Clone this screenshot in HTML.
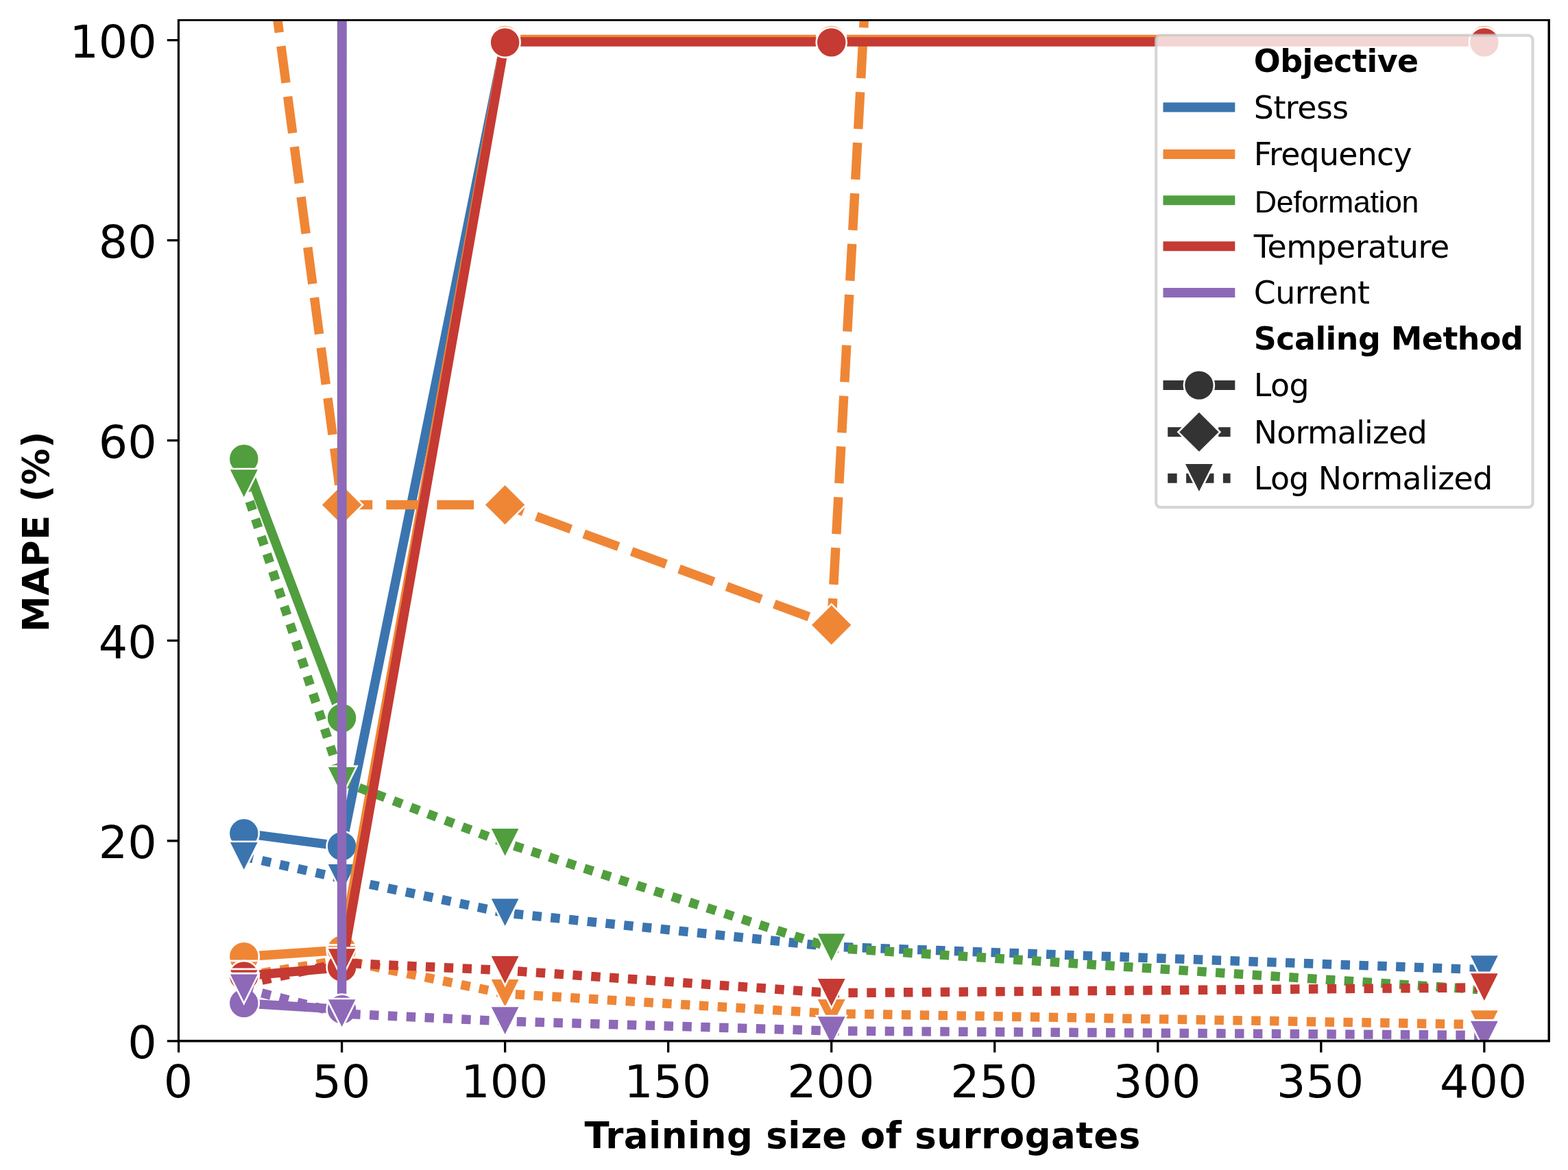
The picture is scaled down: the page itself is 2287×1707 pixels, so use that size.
<!DOCTYPE html>
<html lang="en">
<head>
<meta charset="utf-8">
<title>MAPE vs Training size of surrogates</title>
<style>
html,body{margin:0;padding:0;background:#fff;}
body{width:2287px;height:1707px;overflow:hidden;}
svg{display:block;}
</style>
</head>
<body>
<svg width="2287" height="1707" viewBox="0 0 2287 1707" role="img" aria-label="MAPE versus training size of surrogates">
<defs><clipPath id="ax"><rect x="260.4" y="29.4" width="1998.8" height="1489.4"/></clipPath></defs>
<rect width="2287" height="1707" fill="#fff"/>
<g clip-path="url(#ax)">
<path d="M355.77 1215.81 L498.59 1234.65 L736.63 60.36 L1212.71 60.36 L2164.87 60.36" fill="none" stroke="#3b75af" stroke-width="13.45" stroke-linejoin="round" stroke-linecap="square"/>
<circle cx="355.77" cy="1215.81" r="22" fill="#3b75af" stroke="#fff" stroke-width="2.6"/>
<circle cx="498.59" cy="1234.65" r="22" fill="#3b75af" stroke="#fff" stroke-width="2.6"/>
<circle cx="736.63" cy="61.26" r="22" fill="#3b75af" stroke="#fff" stroke-width="2.6"/>
<circle cx="1212.71" cy="61.26" r="22" fill="#3b75af" stroke="#fff" stroke-width="2.6"/>
<circle cx="2164.87" cy="61.26" r="22" fill="#3b75af" stroke="#fff" stroke-width="2.6"/>
<path d="M355.77 1249.69 L498.59 1281.66 L736.63 1331.89 L1212.71 1381.18 L2164.87 1414.83" fill="none" stroke="#3b75af" stroke-width="13.45" stroke-linejoin="round" stroke-linecap="butt" stroke-dasharray="13.43 13.43"/>
<polygon points="333.77,1227.69 377.77,1227.69 355.77,1271.69" fill="#3b75af" stroke="#fff" stroke-width="2.6" stroke-linejoin="miter"/>
<polygon points="476.59,1259.66 520.59,1259.66 498.59,1303.66" fill="#3b75af" stroke="#fff" stroke-width="2.6" stroke-linejoin="miter"/>
<polygon points="714.63,1309.89 758.63,1309.89 736.63,1353.89" fill="#3b75af" stroke="#fff" stroke-width="2.6" stroke-linejoin="miter"/>
<polygon points="1190.71,1359.18 1234.71,1359.18 1212.71,1403.18" fill="#3b75af" stroke="#fff" stroke-width="2.6" stroke-linejoin="miter"/>
<polygon points="2142.87,1392.83 2186.87,1392.83 2164.87,1436.83" fill="#3b75af" stroke="#fff" stroke-width="2.6" stroke-linejoin="miter"/>
<path d="M355.77 1395.71 L498.59 1385.92 L736.63 57.58 L1212.71 57.58 L2164.87 57.58" fill="none" stroke="#ef8636" stroke-width="13.45" stroke-linejoin="round" stroke-linecap="square"/>
<circle cx="355.77" cy="1395.71" r="22" fill="#ef8636" stroke="#fff" stroke-width="2.6"/>
<circle cx="498.59" cy="1385.92" r="22" fill="#ef8636" stroke="#fff" stroke-width="2.6"/>
<circle cx="736.63" cy="58.48" r="22" fill="#ef8636" stroke="#fff" stroke-width="2.6"/>
<circle cx="1212.71" cy="58.48" r="22" fill="#ef8636" stroke="#fff" stroke-width="2.6"/>
<circle cx="2164.87" cy="58.48" r="22" fill="#ef8636" stroke="#fff" stroke-width="2.6"/>
<path d="M355.77 -341.49 L498.59 736.57 L736.63 736.57 L1212.71 911.94 L1298.08 -671.49" fill="none" stroke="#ef8636" stroke-width="13.45" stroke-linejoin="round" stroke-linecap="butt" stroke-dasharray="53.8 20.175" stroke-dashoffset="31.34"/>
<polygon points="498.59,706.08 529.08,736.57 498.59,767.06 468.1,736.57" fill="#ef8636" stroke="#fff" stroke-width="2.6" stroke-linejoin="miter"/>
<polygon points="736.63,706.08 767.12,736.57 736.63,767.06 706.14,736.57" fill="#ef8636" stroke="#fff" stroke-width="2.6" stroke-linejoin="miter"/>
<polygon points="1212.71,881.45 1243.2,911.94 1212.71,942.43 1182.22,911.94" fill="#ef8636" stroke="#fff" stroke-width="2.6" stroke-linejoin="miter"/>
<path d="M355.77 1423.89 L498.59 1400.67 L736.63 1449.81 L1212.71 1478.79 L2164.87 1494.85" fill="none" stroke="#ef8636" stroke-width="13.45" stroke-linejoin="round" stroke-linecap="butt" stroke-dasharray="13.43 13.43"/>
<polygon points="333.77,1401.89 377.77,1401.89 355.77,1445.89" fill="#ef8636" stroke="#fff" stroke-width="2.6" stroke-linejoin="miter"/>
<polygon points="476.59,1378.67 520.59,1378.67 498.59,1422.67" fill="#ef8636" stroke="#fff" stroke-width="2.6" stroke-linejoin="miter"/>
<polygon points="714.63,1427.81 758.63,1427.81 736.63,1471.81" fill="#ef8636" stroke="#fff" stroke-width="2.6" stroke-linejoin="miter"/>
<polygon points="1190.71,1456.79 1234.71,1456.79 1212.71,1500.79" fill="#ef8636" stroke="#fff" stroke-width="2.6" stroke-linejoin="miter"/>
<polygon points="2142.87,1472.85 2186.87,1472.85 2164.87,1516.85" fill="#ef8636" stroke="#fff" stroke-width="2.6" stroke-linejoin="miter"/>
<path d="M355.77 669.4 L498.59 1047.59 L498.59 -671.49" fill="none" stroke="#519e3e" stroke-width="13.45" stroke-linejoin="round" stroke-linecap="square"/>
<circle cx="355.77" cy="669.4" r="22" fill="#519e3e" stroke="#fff" stroke-width="2.6"/>
<circle cx="498.59" cy="1047.59" r="22" fill="#519e3e" stroke="#fff" stroke-width="2.6"/>
<path d="M355.77 706.05 L498.59 1139.88 L736.63 1229.68 L1212.71 1382.86 L2164.87 1444.04" fill="none" stroke="#519e3e" stroke-width="13.45" stroke-linejoin="round" stroke-linecap="butt" stroke-dasharray="13.43 13.43"/>
<polygon points="333.77,684.05 377.77,684.05 355.77,728.05" fill="#519e3e" stroke="#fff" stroke-width="2.6" stroke-linejoin="miter"/>
<polygon points="476.59,1117.88 520.59,1117.88 498.59,1161.88" fill="#519e3e" stroke="#fff" stroke-width="2.6" stroke-linejoin="miter"/>
<polygon points="714.63,1207.68 758.63,1207.68 736.63,1251.68" fill="#519e3e" stroke="#fff" stroke-width="2.6" stroke-linejoin="miter"/>
<polygon points="1190.71,1360.86 1234.71,1360.86 1212.71,1404.86" fill="#519e3e" stroke="#fff" stroke-width="2.6" stroke-linejoin="miter"/>
<polygon points="2142.87,1422.04 2186.87,1422.04 2164.87,1466.04" fill="#519e3e" stroke="#fff" stroke-width="2.6" stroke-linejoin="miter"/>
<path d="M355.77 1423.89 L498.59 1411.18 L736.63 60.94 L1212.71 60.94 L2164.87 60.94" fill="none" stroke="#c53a32" stroke-width="13.45" stroke-linejoin="round" stroke-linecap="square"/>
<circle cx="355.77" cy="1423.89" r="22" fill="#c53a32" stroke="#fff" stroke-width="2.6"/>
<circle cx="498.59" cy="1411.18" r="22" fill="#c53a32" stroke="#fff" stroke-width="2.6"/>
<circle cx="736.63" cy="61.84" r="22" fill="#c53a32" stroke="#fff" stroke-width="2.6"/>
<circle cx="1212.71" cy="61.84" r="22" fill="#c53a32" stroke="#fff" stroke-width="2.6"/>
<circle cx="2164.87" cy="61.84" r="22" fill="#c53a32" stroke="#fff" stroke-width="2.6"/>
<path d="M355.77 1435.86 L498.59 1404.9 L736.63 1415.71 L1212.71 1448.71 L2164.87 1440.83" fill="none" stroke="#c53a32" stroke-width="13.45" stroke-linejoin="round" stroke-linecap="butt" stroke-dasharray="13.43 13.43"/>
<polygon points="333.77,1413.86 377.77,1413.86 355.77,1457.86" fill="#c53a32" stroke="#fff" stroke-width="2.6" stroke-linejoin="miter"/>
<polygon points="476.59,1382.9 520.59,1382.9 498.59,1426.9" fill="#c53a32" stroke="#fff" stroke-width="2.6" stroke-linejoin="miter"/>
<polygon points="714.63,1393.71 758.63,1393.71 736.63,1437.71" fill="#c53a32" stroke="#fff" stroke-width="2.6" stroke-linejoin="miter"/>
<polygon points="1190.71,1426.71 1234.71,1426.71 1212.71,1470.71" fill="#c53a32" stroke="#fff" stroke-width="2.6" stroke-linejoin="miter"/>
<polygon points="2142.87,1418.83 2186.87,1418.83 2164.87,1462.83" fill="#c53a32" stroke="#fff" stroke-width="2.6" stroke-linejoin="miter"/>
<path d="M355.77 1463.6 L498.59 1472.66 L499.09 -671.49" fill="none" stroke="#8d69b8" stroke-width="13.45" stroke-linejoin="round" stroke-linecap="square"/>
<circle cx="355.77" cy="1463.6" r="22" fill="#8d69b8" stroke="#fff" stroke-width="2.6"/>
<circle cx="498.59" cy="1472.66" r="22" fill="#8d69b8" stroke="#fff" stroke-width="2.6"/>
<path d="M355.77 1442.14 L498.59 1478.94 L736.63 1489.95 L1212.71 1503.99 L2164.87 1510.39" fill="none" stroke="#8d69b8" stroke-width="13.45" stroke-linejoin="round" stroke-linecap="butt" stroke-dasharray="13.43 13.43"/>
<polygon points="333.77,1420.14 377.77,1420.14 355.77,1464.14" fill="#8d69b8" stroke="#fff" stroke-width="2.6" stroke-linejoin="miter"/>
<polygon points="476.59,1456.94 520.59,1456.94 498.59,1500.94" fill="#8d69b8" stroke="#fff" stroke-width="2.6" stroke-linejoin="miter"/>
<polygon points="714.63,1467.95 758.63,1467.95 736.63,1511.95" fill="#8d69b8" stroke="#fff" stroke-width="2.6" stroke-linejoin="miter"/>
<polygon points="1190.71,1481.99 1234.71,1481.99 1212.71,1525.99" fill="#8d69b8" stroke="#fff" stroke-width="2.6" stroke-linejoin="miter"/>
<polygon points="2142.87,1488.39 2186.87,1488.39 2164.87,1532.39" fill="#8d69b8" stroke="#fff" stroke-width="2.6" stroke-linejoin="miter"/>
</g>
<path d="M260.55 1518.8 v16.6 M498.59 1518.8 v16.6 M736.63 1518.8 v16.6 M974.67 1518.8 v16.6 M1212.71 1518.8 v16.6 M1450.75 1518.8 v16.6 M1688.79 1518.8 v16.6 M1926.83 1518.8 v16.6 M2164.87 1518.8 v16.6 M260.4 1518.8 h-16.6 M260.4 1226.76 h-16.6 M260.4 934.72 h-16.6 M260.4 642.68 h-16.6 M260.4 350.64 h-16.6 M260.4 58.6 h-16.6" stroke="#000" stroke-width="3.3" fill="none"/>
<path d="M258.8 27.95 H2260.9 V1520.55 H258.8 Z M262 30.85 V1517.05 H2257.5 V30.85 Z" fill="#000" fill-rule="evenodd"/>
<g font-family="'DejaVu Sans', 'Liberation Sans', sans-serif" font-size="66.67" fill="#000">
<text x="260" y="1601.2" text-anchor="middle">0</text>
<text x="497.95" y="1601.2" text-anchor="middle">50</text>
<text x="735.9" y="1601.2" text-anchor="middle">100</text>
<text x="973.85" y="1601.2" text-anchor="middle">150</text>
<text x="1211.8" y="1601.2" text-anchor="middle">200</text>
<text x="1449.75" y="1601.2" text-anchor="middle">250</text>
<text x="1687.7" y="1601.2" text-anchor="middle">300</text>
<text x="1925.65" y="1601.2" text-anchor="middle">350</text>
<text x="2163.6" y="1601.2" text-anchor="middle">400</text>
<text x="228.7" y="1544.3" text-anchor="end">0</text>
<text x="228.7" y="1252.26" text-anchor="end">20</text>
<text x="228.7" y="960.22" text-anchor="end">40</text>
<text x="228.7" y="668.18" text-anchor="end">60</text>
<text x="228.7" y="376.14" text-anchor="end">80</text>
<text x="228.7" y="84.1" text-anchor="end">100</text>
</g>
<g font-family="'DejaVu Sans', 'Liberation Sans', sans-serif" font-weight="bold" font-size="53" letter-spacing="0.5" fill="#000">
<text x="1258.05" y="1674.5" text-anchor="middle">Training size of surrogates</text>
<text transform="translate(70.8 775.5) rotate(-90)" text-anchor="middle">MAPE (%)</text>
</g>
<rect x="1686.2" y="51.6" width="549.3" height="688.6" rx="6.5" ry="6.5" fill="#fff" fill-opacity="0.79" stroke="#ccc" stroke-opacity="0.8" stroke-width="4.2"/>
<text x="1828.8" y="105" font-family="'DejaVu Sans', 'Liberation Sans', sans-serif" font-size="45.83" letter-spacing="-0.5" font-weight="bold" fill="#000">Objective</text>
<path d="M1696.48 156.5 H1801.32" stroke="#3b75af" stroke-width="14" stroke-linecap="butt" fill="none"/>
<text x="1828.8" y="173.3" font-family="'DejaVu Sans', 'Liberation Sans', sans-serif" font-size="45.83" letter-spacing="-0.5" fill="#000">Stress</text>
<path d="M1696.48 225 H1801.32" stroke="#ef8636" stroke-width="14" stroke-linecap="butt" fill="none"/>
<text x="1828.8" y="240.5" font-family="'DejaVu Sans', 'Liberation Sans', sans-serif" font-size="45.83" letter-spacing="-0.75" fill="#000">Frequency</text>
<path d="M1696.48 292.2 H1801.32" stroke="#519e3e" stroke-width="14" stroke-linecap="butt" fill="none"/>
<text x="1829.8" y="309.7" font-family="'Liberation Sans', 'DejaVu Sans', sans-serif" font-size="44.8" letter-spacing="-0.45" fill="#000">Deformation</text>
<path d="M1696.48 359.3 H1801.32" stroke="#c53a32" stroke-width="14" stroke-linecap="butt" fill="none"/>
<text x="1828.8" y="375.8" font-family="'DejaVu Sans', 'Liberation Sans', sans-serif" font-size="45.83" letter-spacing="-0.5" fill="#000">Temperature</text>
<path d="M1696.48 427 H1801.32" stroke="#8d69b8" stroke-width="14" stroke-linecap="butt" fill="none"/>
<text x="1828.8" y="443" font-family="'DejaVu Sans', 'Liberation Sans', sans-serif" font-size="45.83" letter-spacing="-0.5" fill="#000">Current</text>
<text x="1828.8" y="510.2" font-family="'DejaVu Sans', 'Liberation Sans', sans-serif" font-size="45.83" letter-spacing="-0.5" font-weight="bold" fill="#000">Scaling Method</text>
<path d="M1696.48 562.1 H1801.32" stroke="#333" stroke-width="14" fill="none"/>
<circle cx="1748.9" cy="562.1" r="22" fill="#333" stroke="#fff" stroke-width="2.6"/>
<text x="1828.8" y="577.5" font-family="'DejaVu Sans', 'Liberation Sans', sans-serif" font-size="45.83" letter-spacing="-0.5" fill="#000">Log</text>
<path d="M1703.2 630.3 H1794.6" stroke="#333" stroke-width="14" fill="none" stroke-dasharray="53.8 20.17"/>
<polygon points="1748.9,599.81 1779.39,630.3 1748.9,660.79 1718.41,630.3" fill="#333" stroke="#fff" stroke-width="2.6" stroke-linejoin="miter"/>
<text x="1828.8" y="646.9" font-family="'DejaVu Sans', 'Liberation Sans', sans-serif" font-size="45.83" letter-spacing="-0.75" fill="#000">Normalized</text>
<path d="M1703.2 697.8 H1794.6" stroke="#333" stroke-width="14" fill="none" stroke-dasharray="13.45 13.45"/>
<polygon points="1726.9,675.8 1770.9,675.8 1748.9,719.8" fill="#333" stroke="#fff" stroke-width="2.6" stroke-linejoin="miter"/>
<text x="1828.8" y="713.8" font-family="'DejaVu Sans', 'Liberation Sans', sans-serif" font-size="45.83" letter-spacing="-0.6" fill="#000">Log Normalized</text>
</svg>
</body>
</html>
